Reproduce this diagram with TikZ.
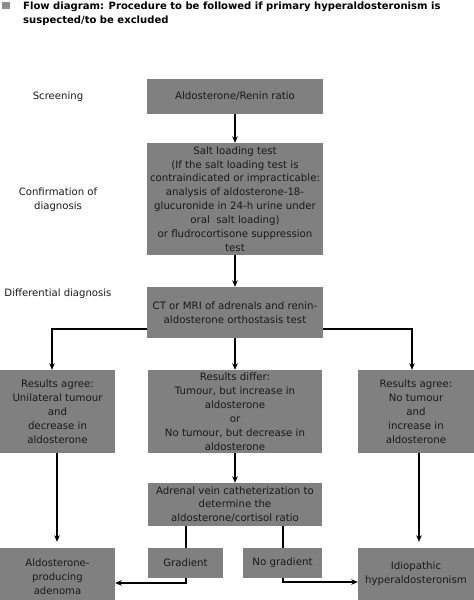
\documentclass[tikz,border=0pt]{standalone}
\usepackage{fontspec}
\setmainfont{DejaVu Sans}
\usetikzlibrary{arrows.meta,calc}
\definecolor{boxgray}{RGB}{128,128,128}
\definecolor{txtdark}{RGB}{25,25,25}
\begin{document}
\begin{tikzpicture}[x=1pt,y=-1pt,
  box/.style={fill=boxgray,draw=none,inner sep=0pt,align=center,text=txtdark,
    font=\fontsize{10.2}{13.9}\selectfont},
  lbl/.style={inner sep=0pt,align=center,text=txtdark,font=\fontsize{10.1}{13.9}\selectfont},
  arr/.style={line width=1.8pt,-{Stealth[length=6.5pt,width=5.5pt]}},
  ln/.style={line width=1.8pt}]
\useasboundingbox (0,0) rectangle (474,600);
% title
\fill[boxgray!90!white] (2,1.5) rectangle (9.5,9);
\node[anchor=north west,inner sep=0pt,align=left,font=\fontsize{10.05}{14}\bfseries\selectfont] (title) at (23,1.8)
 {Flow diagram: Procedure to be followed if primary hyperaldosteronism is\\suspected/to be excluded};
% stage labels
\node[lbl] (s1) at (58,97) {Screening};
\node[lbl] (s2) at (58,200) {Confirmation of\\diagnosis};
\node[lbl] (s3) at (58,293.5) {Differential diagnosis};
% boxes
\node[box,minimum width=176,minimum height=35] (b1) at (235,96.5) {Aldosterone/Renin ratio};
\node[box,minimum width=176,minimum height=112] (b2) at (235,199)
 {Salt loading test\\(If the salt loading test is\\contraindicated or impracticable:\\analysis of aldosterone-18-\\glucuronide in 24-h urine under\\oral\ \ salt loading)\\or fludrocortisone suppression\\test};
\node[box,minimum width=176,minimum height=51] (b3) at (235,312.5)
 {CT or MRI of adrenals and renin-\\aldosterone orthostasis test};
\node[box,minimum width=115,minimum height=83] (L) at (57.5,411.5)
 {Results agree:\\Unilateral tumour\\and\\decrease in\\aldosterone};
\node[box,minimum width=174,minimum height=83] (M) at (235,411.5)
 {Results differ:\\Tumour, but increase in\\aldosterone\\or\\No tumour, but decrease in\\aldosterone};
\node[box,minimum width=116,minimum height=83] (R) at (416,411.5)
 {Results agree:\\No tumour\\and\\increase in\\aldosterone};
\node[box,minimum width=174,minimum height=43] (A) at (235,504.5)
 {Adrenal vein catheterization to\\determine the\\aldosterone/cortisol ratio};
\node[box,minimum width=75,minimum height=30] (G) at (185.5,563) {Gradient};
\node[box,minimum width=79,minimum height=30] (NG) at (282.5,563) {No gradient};
\node[box,minimum width=115,minimum height=52] (AP) at (57.5,574) {};
\node[lbl] (APt) at (57.5,577) {Aldosterone-\\producing\\adenoma};
\node[box,minimum width=116,minimum height=52] (IH) at (416,574)
 {Idiopathic\\hyperaldosteronism};
% connectors
\draw[arr] (b1.south) -- (b2.north);
\draw[arr] (b2.south) -- (b3.north);
\draw[arr] ([yshift=-16.5pt]b3.west) -| ([xshift=-5.5pt]L.north);
\draw[arr] ([yshift=-16.5pt]b3.east) -| ([xshift=-4pt]R.north);
\draw[arr] (b3.south) -- (M.north);
\draw[arr] (M.south) -- (A.north);
\draw[ln] ([xshift=0.5pt]A.south -| G.north) -- ([xshift=0.5pt]G.north);
\draw[ln] ([xshift=0.5pt]A.south -| NG.north) -- ([xshift=0.5pt]NG.north);
\draw[arr] ([xshift=0.5pt]G.south) |- ([yshift=-9pt]AP.east);
\draw[arr] ([xshift=0.5pt]NG.south) |- ([yshift=-8pt]IH.west);
\draw[arr] ([xshift=-0.5pt]L.south) -- ([xshift=-0.5pt,yshift=6pt]AP.north);
\draw[arr] ([xshift=3pt]R.south) -- ([xshift=3pt,yshift=6pt]IH.north);
\end{tikzpicture}
\end{document}
